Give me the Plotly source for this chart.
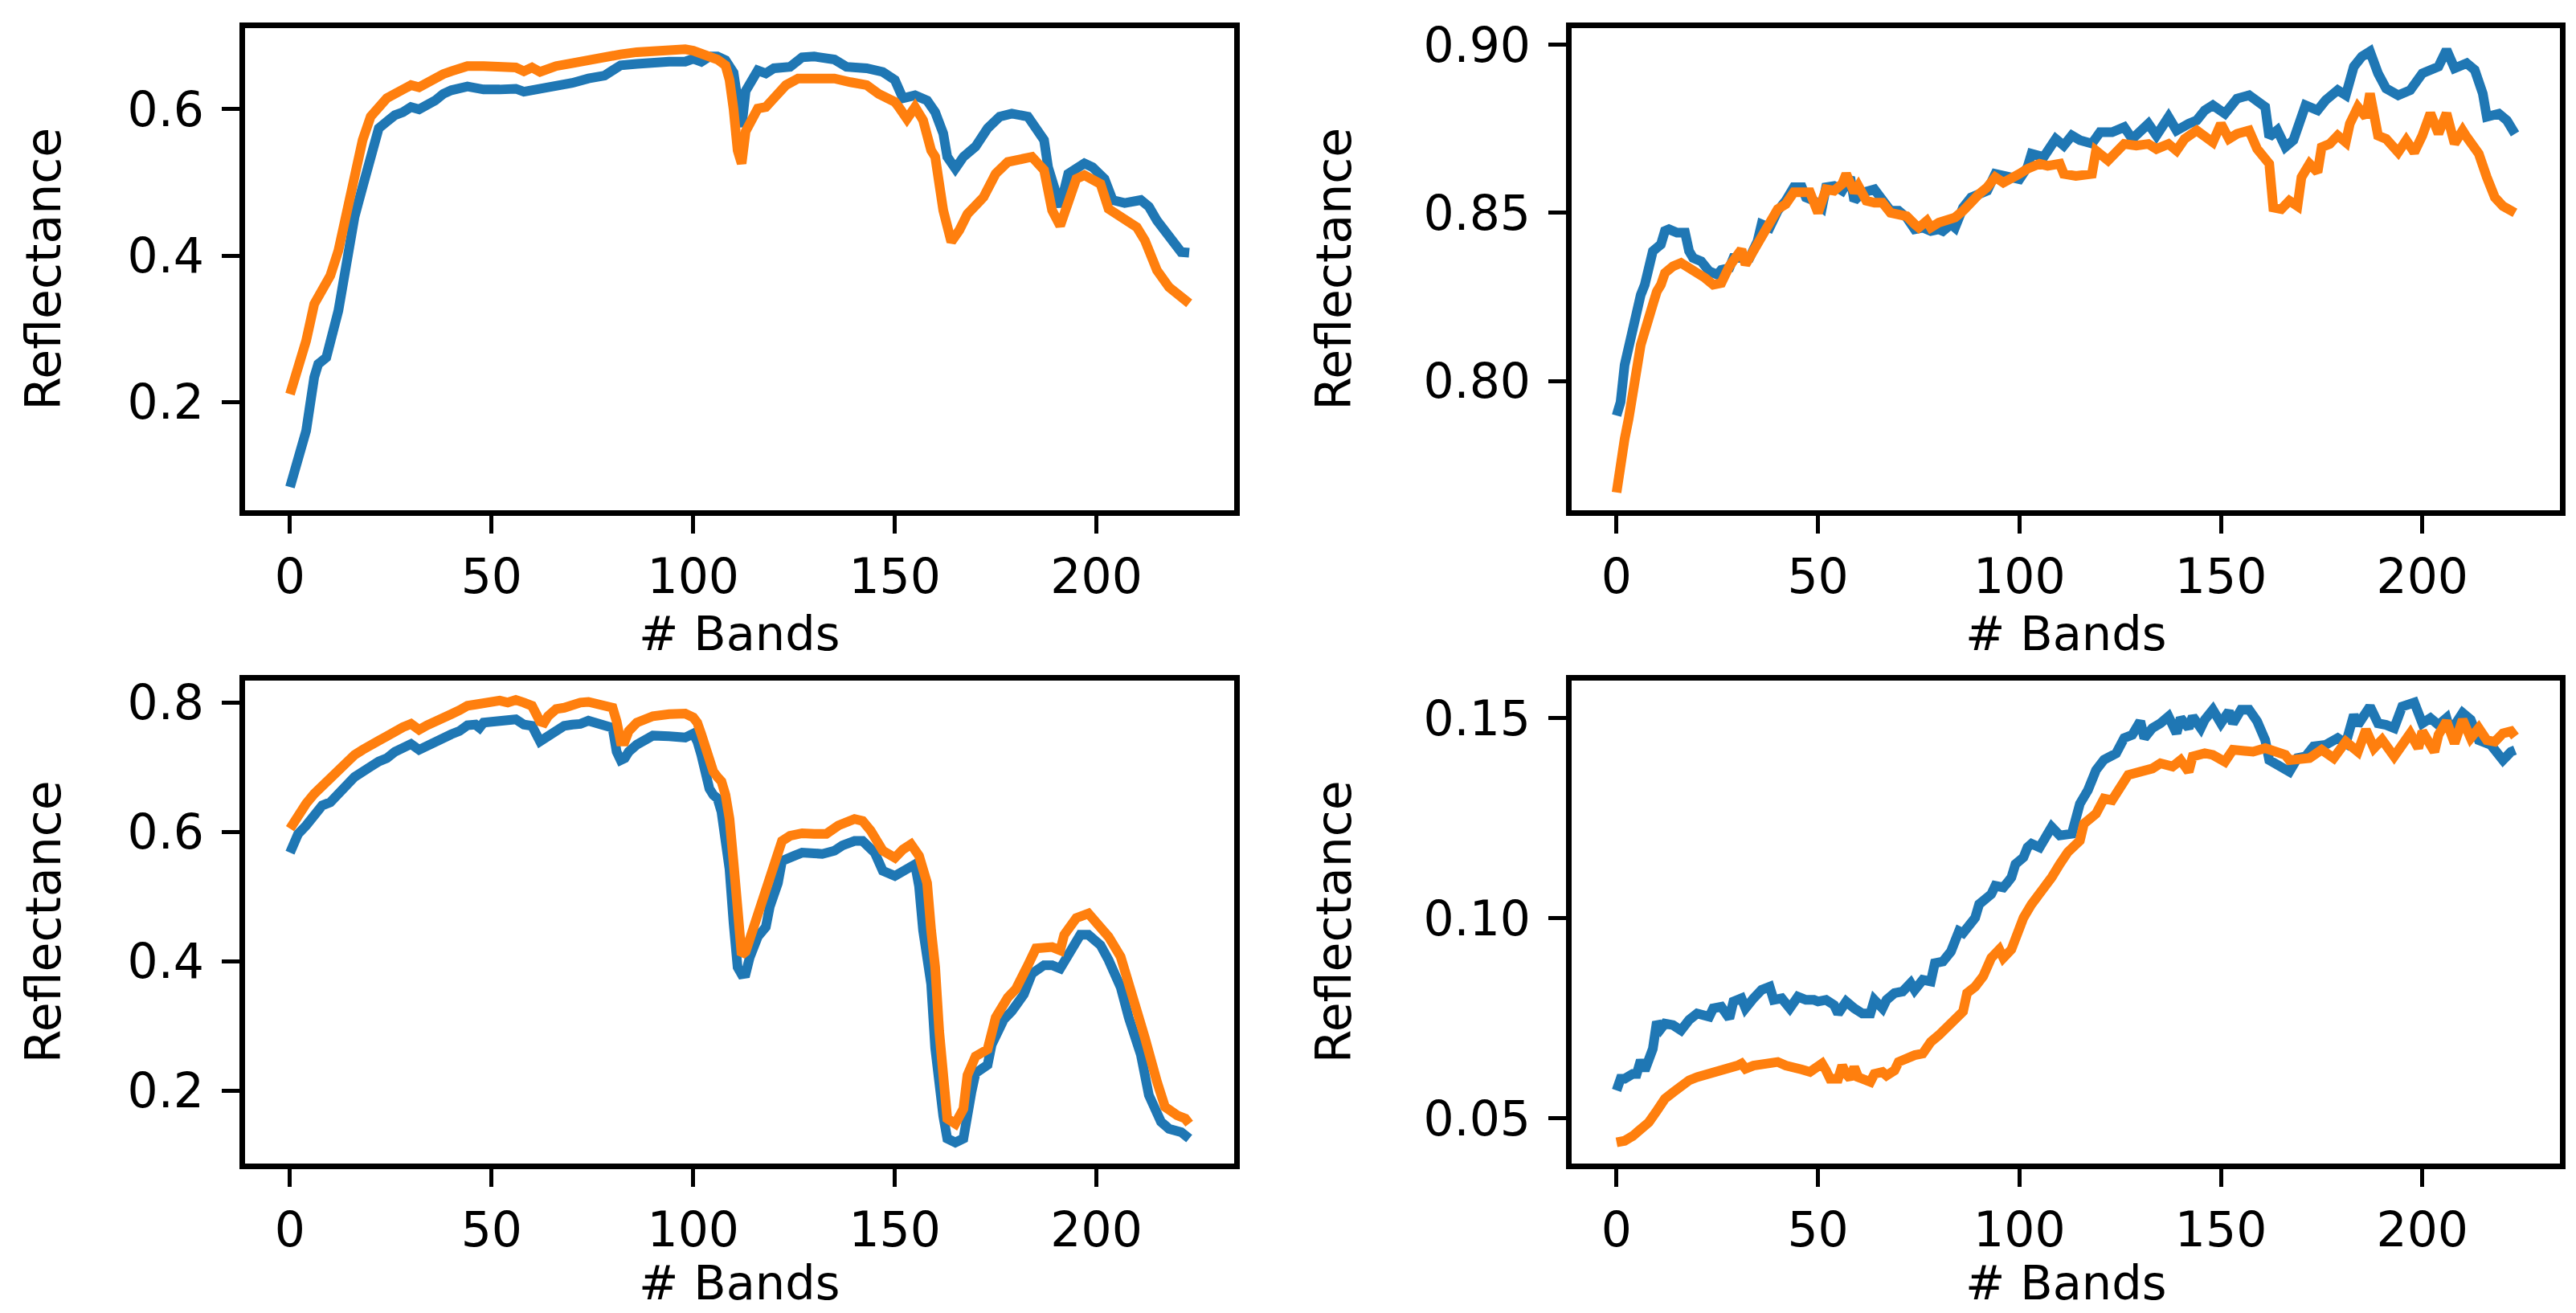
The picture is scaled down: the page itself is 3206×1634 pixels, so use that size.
import plotly.graph_objects as go

# --- panel a (top left) ---
a_blue_x = [0, 2, 4, 6, 7, 9, 10, 12, 14, 16, 18, 20, 22, 24, 26, 28, 30, 32, 34, 36, 38, 40, 44, 48, 52, 56, 58, 62, 66, 70,
            74, 78, 80, 82, 86, 90, 94, 98, 100, 102, 104, 106, 108, 110, 111, 112, 113, 116, 118, 120, 124, 127, 130, 135,
            138, 143, 147, 150, 152, 155, 158, 160, 162, 163, 165, 167, 170, 173, 176, 179, 183, 185, 187, 188, 190, 191,
            193, 195, 197, 199, 202, 204, 207, 211, 213, 215, 217, 220, 221, 223]
a_blue_y = [0.084, 0.129, 0.161, 0.234, 0.252, 0.261, 0.280, 0.325, 0.389, 0.453, 0.494, 0.535, 0.574, 0.583, 0.592, 0.596,
            0.603, 0.600, 0.605, 0.612, 0.621, 0.626, 0.631, 0.627, 0.627, 0.628, 0.624, 0.627, 0.631, 0.636, 0.642, 0.646,
            0.653, 0.660, 0.662, 0.665, 0.665, 0.665, 0.669, 0.665, 0.672, 0.672, 0.667, 0.650, 0.608, 0.576, 0.625, 0.653,
            0.649, 0.656, 0.658, 0.671, 0.672, 0.668, 0.658, 0.656, 0.651, 0.640, 0.615, 0.619, 0.612, 0.596, 0.567, 0.535,
            0.519, 0.535, 0.549, 0.574, 0.590, 0.594, 0.590, 0.576, 0.558, 0.521, 0.480, 0.467, 0.512, 0.521, 0.526, 0.521,
            0.505, 0.476, 0.472, 0.476, 0.467, 0.448, 0.435, 0.416, 0.405, 0.404]
a_orange_x = [0, 2, 4, 6, 8, 10, 12, 14, 16, 18, 20, 22, 24, 26, 28, 30, 32, 34, 36, 38, 40, 44, 48, 52, 56, 58, 60, 62, 66,
              70, 74, 78, 82, 86, 90, 94, 98, 100, 104, 106, 108, 109, 110, 111, 112, 113, 116, 118, 120, 123, 126, 131, 135,
              139, 143, 146, 150, 151, 153, 155, 157, 159, 160, 162, 164, 166, 168, 172, 175, 178, 182, 184, 187, 189, 191,
              193, 195, 197, 201, 203, 207, 210, 212, 215, 218, 221, 223]
a_orange_y = [0.211, 0.248, 0.284, 0.334, 0.357, 0.373, 0.407, 0.462, 0.512, 0.558, 0.590, 0.605, 0.615, 0.621, 0.627, 0.633,
              0.630, 0.637, 0.642, 0.648, 0.652, 0.659, 0.659, 0.659, 0.657, 0.652, 0.657, 0.651, 0.659, 0.663, 0.668, 0.673,
              0.675, 0.678, 0.680, 0.683, 0.682, 0.680, 0.672, 0.668, 0.660, 0.640, 0.600, 0.544, 0.526, 0.570, 0.601, 0.603,
              0.615, 0.633, 0.642, 0.642, 0.642, 0.637, 0.633, 0.621, 0.610, 0.603, 0.587, 0.603, 0.585, 0.544, 0.535, 0.462,
              0.419, 0.435, 0.457, 0.480, 0.512, 0.528, 0.531, 0.535, 0.517, 0.462, 0.441, 0.471, 0.505, 0.510, 0.498, 0.464,
              0.448, 0.439, 0.421, 0.380, 0.357, 0.346, 0.335]

# --- panel b (top right) ---
b_blue_x = [0, 1, 2, 3, 4, 5, 6, 7, 8, 9, 10, 11, 12, 13, 15, 17, 18, 19, 21, 23, 25, 26, 28, 29, 31, 33, 35, 36, 38, 40,
            42, 44, 46, 47, 49, 51, 52, 54, 56, 58, 59, 61, 64, 66, 68, 70, 72, 74, 76, 78, 80, 81, 83, 84, 86, 88, 90, 92,
            94, 96, 98, 100, 102, 103, 106, 109, 111, 113, 115, 118, 120, 123, 126, 128, 132, 134, 137, 139, 142, 144, 146,
            148, 151, 154, 157, 159, 161, 162, 164, 166, 168, 171, 174, 176, 179, 181, 183, 185, 187, 189, 191, 194, 197,
            200, 204, 206, 208, 211, 213, 215, 216, 219, 221, 223]
b_blue_y = [0.7897, 0.7937, 0.8047, 0.8107, 0.8147, 0.8207, 0.8256, 0.8286, 0.8346, 0.8386, 0.8396, 0.8406, 0.8446, 0.8451,
            0.8441, 0.8441, 0.8386, 0.8366, 0.8356, 0.8326, 0.8316, 0.8330, 0.8336, 0.8366, 0.8366, 0.8366, 0.8416, 0.8466,
            0.8456, 0.8506, 0.8536, 0.8576, 0.8576, 0.8546, 0.8536, 0.8516, 0.8576, 0.8580, 0.8566, 0.8606, 0.8536, 0.8560,
            0.8570, 0.8536, 0.8506, 0.8506, 0.8486, 0.8451, 0.8456, 0.8446, 0.8451, 0.8446, 0.8466, 0.8456, 0.8516, 0.8546,
            0.8560, 0.8566, 0.8616, 0.8610, 0.8606, 0.8600, 0.8636, 0.8676, 0.8666, 0.8720, 0.8700, 0.8730, 0.8716, 0.8706,
            0.8740, 0.8740, 0.8755, 0.8720, 0.8765, 0.8730, 0.8785, 0.8745, 0.8765, 0.8775, 0.8805, 0.8820, 0.8795, 0.8840,
            0.8850, 0.8833, 0.8815, 0.8726, 0.8746, 0.8696, 0.8716, 0.8820, 0.8805, 0.8835, 0.8865, 0.8850, 0.8935, 0.8965,
            0.8980, 0.8915, 0.8870, 0.8850, 0.8865, 0.8915, 0.8935, 0.8985, 0.8930, 0.8945, 0.8925, 0.8855, 0.8786, 0.8795,
            0.8775, 0.8735]
b_orange_x = [0, 1, 2, 3, 4, 5, 6, 7, 8, 9, 10, 11, 12, 14, 16, 18, 20, 22, 24, 26, 28, 31, 32, 34, 36, 38, 40, 42, 44, 46,
              48, 50, 52, 54, 56, 57, 59, 60, 62, 64, 66, 68, 70, 72, 74, 75, 77, 78, 80, 82, 84, 86, 88, 90, 92, 94, 96,
              98, 100, 102, 105, 107, 110, 111, 114, 118, 119, 122, 126, 129, 132, 134, 137, 139, 141, 144, 148, 150, 152,
              154, 157, 159, 162, 163, 165, 167, 169, 170, 172, 174, 175, 177, 179, 181, 182, 184, 186, 187, 189, 191, 194,
              196, 198, 200, 202, 204, 206, 208, 210, 211, 214, 216, 218, 220, 223]
b_orange_y = [0.7668, 0.7777, 0.7827, 0.7887, 0.7977, 0.8037, 0.8107, 0.8147, 0.8197, 0.8227, 0.8266, 0.8286, 0.8321, 0.8341,
              0.8351, 0.8336, 0.8326, 0.8306, 0.8286, 0.8291, 0.8341, 0.8391, 0.8346, 0.8386, 0.8426, 0.8466, 0.8511, 0.8526,
              0.8561, 0.8561, 0.8561, 0.8500, 0.8570, 0.8566, 0.8586, 0.8616, 0.8561, 0.8580, 0.8536, 0.8530, 0.8530, 0.8500,
              0.8496, 0.8490, 0.8466, 0.8456, 0.8476, 0.8456, 0.8471, 0.8476, 0.8486, 0.8506, 0.8536, 0.8556, 0.8576, 0.8606,
              0.8590, 0.8600, 0.8616, 0.8631, 0.8646, 0.8640, 0.8646, 0.8616, 0.8610, 0.8616, 0.8685, 0.8656, 0.8705, 0.8700,
              0.8705, 0.8690, 0.8705, 0.8685, 0.8720, 0.8745, 0.8710, 0.8765, 0.8720, 0.8735, 0.8745, 0.8690, 0.8646, 0.8516,
              0.8511, 0.8536, 0.8520, 0.8606, 0.8646, 0.8621, 0.8695, 0.8705, 0.8730, 0.8710, 0.8765, 0.8815, 0.8785, 0.8855,
              0.8730, 0.8720, 0.8680, 0.8716, 0.8680, 0.8730, 0.8796, 0.8736, 0.8796, 0.8706, 0.8745, 0.8726, 0.8676, 0.8606,
              0.8546, 0.8520, 0.8500]

# --- panel c (bottom left) ---
c_blue_x = [0, 1, 2, 4, 6, 8, 10, 12, 14, 16, 18, 20, 22, 24, 26, 28, 30, 32, 34, 36, 38, 40, 42, 44, 46, 47, 48, 50, 54, 56,
            58, 60, 62, 64, 66, 68, 70, 72, 74, 76, 78, 80, 81, 82, 83, 84, 86, 88, 90, 94, 98, 100, 101, 102, 103, 104, 105,
            106, 107, 108, 109, 110, 111, 112, 113, 114, 116, 118, 119, 121, 122, 125, 127, 130, 132, 135, 137, 140, 142,
            145, 147, 150, 153, 155, 156, 157, 159, 160, 162, 163, 165, 167, 169, 170, 173, 174, 177, 179, 182, 184, 187,
            189, 191, 193, 196, 198, 201, 203, 206, 208, 211, 213, 216, 218, 221, 223]
c_blue_y = [0.568, 0.586, 0.597, 0.610, 0.625, 0.641, 0.646, 0.657, 0.672, 0.685, 0.691, 0.701, 0.709, 0.714, 0.724, 0.732,
            0.736, 0.727, 0.734, 0.740, 0.746, 0.751, 0.756, 0.765, 0.766, 0.761, 0.769, 0.770, 0.771, 0.774, 0.766, 0.764,
            0.740, 0.748, 0.758, 0.764, 0.766, 0.767, 0.772, 0.767, 0.764, 0.761, 0.724, 0.711, 0.714, 0.724, 0.735, 0.743,
            0.749, 0.748, 0.746, 0.752, 0.740, 0.719, 0.688, 0.667, 0.657, 0.652, 0.631, 0.594, 0.542, 0.459, 0.391, 0.380,
            0.381, 0.406, 0.438, 0.453, 0.485, 0.521, 0.555, 0.563, 0.568, 0.567, 0.566, 0.571, 0.579, 0.586, 0.586, 0.568,
            0.540, 0.532, 0.542, 0.550, 0.516, 0.448, 0.365, 0.266, 0.161, 0.126, 0.120, 0.126, 0.198, 0.227, 0.240, 0.271,
            0.310, 0.323, 0.349, 0.381, 0.394, 0.394, 0.389, 0.412, 0.441, 0.441, 0.425, 0.402, 0.360, 0.313, 0.256, 0.193,
            0.152, 0.141, 0.136, 0.126]
c_orange_x = [0, 2, 4, 6, 8, 10, 12, 14, 16, 18, 20, 22, 24, 26, 28, 30, 32, 34, 36, 38, 40, 42, 44, 46, 48, 50, 52, 54, 56,
              58, 60, 62, 63, 64, 66, 68, 70, 72, 74, 76, 78, 80, 81, 82, 83, 84, 86, 88, 90, 94, 98, 100, 101, 102, 103,
              104, 105, 106, 107, 108, 109, 110, 111, 112, 113, 115, 116, 118, 120, 122, 124, 127, 130, 133, 136, 140, 142,
              144, 147, 150, 152, 154, 156, 158, 159, 160, 161, 162, 163, 165, 167, 168, 170, 173, 175, 178, 180, 183, 185,
              189, 191, 192, 195, 198, 200, 203, 206, 208, 211, 212, 215, 217, 220, 222, 223]
c_orange_y = [0.605, 0.628, 0.644, 0.659, 0.672, 0.680, 0.693, 0.709, 0.719, 0.727, 0.736, 0.741, 0.748, 0.756, 0.762, 0.767,
              0.758, 0.765, 0.772, 0.778, 0.782, 0.788, 0.795, 0.797, 0.800, 0.800, 0.803, 0.800, 0.804, 0.800, 0.795, 0.771,
              0.769, 0.779, 0.790, 0.792, 0.798, 0.800, 0.801, 0.798, 0.795, 0.792, 0.771, 0.740, 0.740, 0.756, 0.769, 0.774,
              0.779, 0.782, 0.783, 0.777, 0.769, 0.751, 0.730, 0.709, 0.693, 0.685, 0.678, 0.657, 0.620, 0.553, 0.464, 0.410,
              0.415, 0.454, 0.469, 0.511, 0.542, 0.586, 0.594, 0.598, 0.597, 0.597, 0.610, 0.620, 0.617, 0.602, 0.571, 0.560,
              0.573, 0.581, 0.563, 0.521, 0.448, 0.391, 0.292, 0.198, 0.157, 0.149, 0.172, 0.224, 0.253, 0.264, 0.313, 0.344,
              0.357, 0.394, 0.420, 0.422, 0.417, 0.441, 0.467, 0.474, 0.461, 0.438, 0.407, 0.365, 0.313, 0.282, 0.214, 0.175,
              0.162, 0.157, 0.149]

# --- panel d (bottom right) ---
d_blue_x = [0, 1, 2, 3, 4, 5, 6, 7, 8, 9, 10, 11, 12, 14, 16, 18, 20, 22, 23, 24, 26, 28, 29, 31, 32, 34, 36, 38, 39, 41,
            43, 45, 47, 49, 50, 52, 54, 55, 57, 59, 61, 63, 64, 66, 67, 69, 71, 73, 74, 76, 78, 79, 81, 83, 85, 86, 88, 89,
            90, 91, 93, 94, 96, 97, 98, 99, 100, 101, 102, 103, 105, 108, 110, 113, 115, 117, 119, 121, 124, 126, 128, 130,
            131, 133, 135, 137, 139, 140, 142, 143, 145, 146, 148, 150, 152, 153, 155, 157, 159, 161, 162, 164, 167, 169,
            171, 173, 176, 179, 181, 183, 184, 187, 189, 191, 193, 195, 198, 200, 202, 204, 206, 207, 210, 212, 214, 217,
            219, 220, 222, 223]
d_blue_y = [0.0570, 0.0599, 0.0599, 0.0607, 0.0611, 0.0611, 0.0645, 0.0620, 0.0641, 0.0674, 0.0741, 0.0724, 0.0737, 0.0733,
            0.0720, 0.0746, 0.0762, 0.0758, 0.0754, 0.0775, 0.0779, 0.0750, 0.0792, 0.0800, 0.0775, 0.0800, 0.0821, 0.0829,
            0.0796, 0.0800, 0.0775, 0.0804, 0.0796, 0.0796, 0.0792, 0.0796, 0.0783, 0.0762, 0.0792, 0.0775, 0.0762, 0.0762,
            0.0796, 0.0775, 0.0796, 0.0813, 0.0817, 0.0838, 0.0821, 0.0846, 0.0842, 0.0888, 0.0892, 0.0917, 0.0968, 0.0963,
            0.0984, 0.1001, 0.1035, 0.1043, 0.1060, 0.1081, 0.1077, 0.1089, 0.1102, 0.1135, 0.1148, 0.1152, 0.1177, 0.1186,
            0.1177, 0.1228, 0.1207, 0.1211, 0.1286, 0.1320, 0.1370, 0.1396, 0.1412, 0.1450, 0.1458, 0.1492, 0.1450, 0.1475,
            0.1487, 0.1504, 0.1462, 0.1500, 0.1475, 0.1504, 0.1475, 0.1496, 0.1521, 0.1487, 0.1517, 0.1487, 0.1521, 0.1521,
            0.1492, 0.1445, 0.1395, 0.1383, 0.1366, 0.1400, 0.1404, 0.1429, 0.1433, 0.1450, 0.1437, 0.1508, 0.1483, 0.1529,
            0.1487, 0.1483, 0.1475, 0.1529, 0.1539, 0.1487, 0.1500, 0.1483, 0.1500, 0.1466, 0.1513, 0.1496, 0.1445, 0.1433,
            0.1412, 0.1395, 0.1416, 0.1420]
d_orange_x = [0, 2, 4, 6, 8, 10, 12, 14, 16, 18, 20, 22, 24, 26, 28, 30, 31, 32, 34, 36, 38, 40, 42, 44, 46, 48, 50, 51, 52,
              53, 55, 56, 57, 58, 59, 60, 61, 63, 64, 66, 67, 69, 70, 72, 74, 76, 78, 80, 82, 84, 86, 87, 89, 91, 93, 95,
              96, 98, 99, 101, 103, 105, 108, 110, 112, 115, 116, 119, 121, 123, 125, 127, 130, 133, 135, 138, 140, 142,
              143, 146, 148, 151, 153, 156, 158, 161, 163, 166, 167, 170, 172, 175, 178, 181, 184, 186, 188, 190, 193, 195,
              197, 199, 200, 203, 204, 206, 208, 210, 212, 214, 216, 218, 220, 222, 223]
d_orange_y = [0.0440, 0.0444, 0.0456, 0.0473, 0.0490, 0.0519, 0.0549, 0.0565, 0.0582, 0.0595, 0.0603, 0.0609, 0.0609, 0.0616,
              0.0624, 0.0632, 0.0637, 0.0624, 0.0632, 0.0637, 0.0641, 0.0641, 0.0632, 0.0624, 0.0622, 0.0616, 0.0632, 0.0637,
              0.0620, 0.0599, 0.0599, 0.0632, 0.0611, 0.0599, 0.0628, 0.0603, 0.0599, 0.0591, 0.0611, 0.0616, 0.0607, 0.0620,
              0.0641, 0.0653, 0.0658, 0.0662, 0.0691, 0.0708, 0.0729, 0.0750, 0.0767, 0.0813, 0.0829, 0.0855, 0.0901, 0.0922,
              0.0901, 0.0922, 0.0951, 0.1001, 0.1035, 0.1060, 0.1102, 0.1135, 0.1165, 0.1194, 0.1236, 0.1261, 0.1299, 0.1295,
              0.1328, 0.1358, 0.1366, 0.1374, 0.1387, 0.1379, 0.1395, 0.1366, 0.1404, 0.1412, 0.1408, 0.1391, 0.1421, 0.1416,
              0.1416, 0.1425, 0.1416, 0.1408, 0.1395, 0.1400, 0.1400, 0.1421, 0.1400, 0.1441, 0.1416, 0.1471, 0.1425, 0.1446,
              0.1404, 0.1433, 0.1462, 0.1425, 0.1467, 0.1416, 0.1458, 0.1492, 0.1437, 0.1496, 0.1450, 0.1475, 0.1445, 0.1441,
              0.1462, 0.1467, 0.1454]

band_ticks = [0, 50, 100, 150, 200]
a_ticks = [0.2, 0.4, 0.6]
b_ticks = [0.80, 0.85, 0.90]
c_ticks = [0.2, 0.4, 0.6, 0.8]
d_ticks = [0.05, 0.10, 0.15]

BLUE = "#1f77b4"
ORANGE = "#ff7f0e"
W, H = 3206, 1634
FONT = "DejaVu Sans"

fig = go.Figure()

panels = [
    (a_blue_x, a_blue_y, a_orange_x, a_orange_y),
    (b_blue_x, b_blue_y, b_orange_x, b_orange_y),
    (c_blue_x, c_blue_y, c_orange_x, c_orange_y),
    (d_blue_x, d_blue_y, d_orange_x, d_orange_y),
]
for i, (bx, by, ox, oy) in enumerate(panels):
    n = "" if i == 0 else str(i + 1)
    fig.add_trace(go.Scatter(x=bx, y=by, mode="lines", line=dict(color=BLUE, width=12),
                             xaxis="x" + n, yaxis="y" + n, showlegend=False))
    fig.add_trace(go.Scatter(x=ox, y=oy, mode="lines", line=dict(color=ORANGE, width=12),
                             xaxis="x" + n, yaxis="y" + n, showlegend=False))

# axes boxes in pixels (left, right, top, bottom)
boxes = [(305, 1536, 21, 626), (1956, 3186, 21, 626), (305, 1536, 840, 1446), (1956, 3186, 840, 1446)]
yranges = [[0.0528, 0.711], [0.7616, 0.905], [0.0879, 0.8342], [0.0388, 0.1594]]
yticks = [a_ticks, b_ticks, c_ticks, d_ticks]
yfmt = [".1f", ".2f", ".1f", ".2f"]
# gap from the box bottom down to the middle of "# Bands"
xtitle_gap = [155, 155, 150, 150]

axis_common = dict(showline=True, mirror=True, linecolor="black", linewidth=7,
                   ticks="outside", ticklen=22, tickwidth=5, tickcolor="black",
                   showgrid=False, zeroline=False,
                   tickfont=dict(family=FONT, size=60, color="black"))

layout = {}
for i, (l, r, t, b) in enumerate(boxes):
    n = "" if i == 0 else str(i + 1)
    layout["xaxis" + n] = dict(axis_common, domain=[l / W, r / W], anchor="y" + n,
                               range=[-11.15, 234.15], tickvals=band_ticks, ticklabelstandoff=2)
    layout["yaxis" + n] = dict(axis_common, domain=[1 - b / H, 1 - t / H], anchor="x" + n,
                               range=yranges[i], tickvals=yticks[i], tickformat=yfmt[i], ticklabelstandoff=10)

# axis titles as text placed like the original
notes = []
for i, (l, r, t, b) in enumerate(boxes):
    ytx = 54 if l < 1000 else 1660
    notes.append(dict(text="Reflectance", x=ytx / W, y=1 - (t + b) / 2 / H, xref="paper", yref="paper",
                      textangle=-90, showarrow=False, xanchor="center", yanchor="middle",
                      font=dict(family=FONT, size=60, color="black")))
    notes.append(dict(text="# Bands", x=(l + r) / 2 / W, y=1 - (b + xtitle_gap[i]) / H, xref="paper", yref="paper",
                      showarrow=False, xanchor="center", yanchor="middle",
                      font=dict(family=FONT, size=59, color="black")))

fig.update_layout(**layout)
fig.update_layout(width=W, height=H, margin=dict(l=0, r=0, t=0, b=0),
                  paper_bgcolor="white", plot_bgcolor="white", annotations=notes)

# the page body has a default 8px margin that pushes the figure off the window
fig.write_html("out.html", config={"displayModeBar": False},
               post_script="document.body.style.margin='0px';document.body.style.overflow='hidden';")
